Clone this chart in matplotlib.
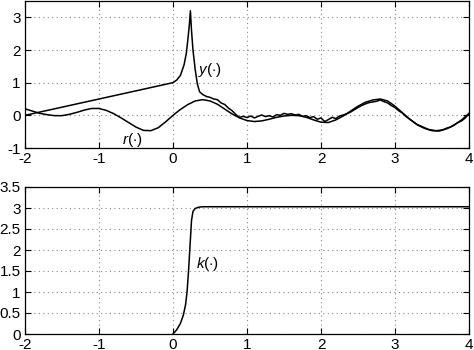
import matplotlib
matplotlib.use("Agg")
import matplotlib.pyplot as plt

plt.rcParams["font.family"] = ["Liberation Sans", "DejaVu Sans"]
plt.rcParams["mathtext.fontset"] = "custom"
plt.rcParams["mathtext.rm"] = "Liberation Sans"
plt.rcParams["mathtext.it"] = "Liberation Sans:italic"
plt.rcParams["axes.unicode_minus"] = False

# reference signal r(.)
r_x = [-2.0, -1.9, -1.8, -1.7, -1.6, -1.5, -1.4, -1.3, -1.2, -1.1, -1.0,
       -0.9, -0.8, -0.7, -0.6, -0.5, -0.4, -0.3, -0.2, -0.1, 0.0,
       0.1, 0.2, 0.3, 0.4, 0.5, 0.6, 0.7, 0.8, 0.9, 1.0,
       1.1, 1.2, 1.3, 1.4, 1.5, 1.6, 1.7, 1.8, 1.9, 2.0,
       2.1, 2.2, 2.3, 2.4, 2.5, 2.6, 2.7, 2.8, 2.9, 3.0,
       3.1, 3.2, 3.3, 3.4, 3.5, 3.6, 3.7, 3.8, 3.9, 4.0]
r_val = [0.20, 0.13, 0.06, 0.02, -0.01, -0.01, 0.03, 0.09, 0.16, 0.21, 0.21,
         0.15, 0.05, -0.08, -0.22, -0.36, -0.46, -0.47, -0.38, -0.20, 0.00,
         0.18, 0.33, 0.44, 0.48, 0.44, 0.34, 0.19, 0.04, -0.08, -0.16,
         -0.19, -0.17, -0.12, -0.06, -0.02, 0.00, -0.01, -0.06, -0.14, -0.21,
         -0.22, -0.14, -0.02, 0.13, 0.28, 0.40, 0.47, 0.50, 0.44, 0.28,
         0.08, -0.12, -0.29, -0.40, -0.47, -0.48, -0.41, -0.30, -0.14, 0.06]

# output y(.)
y_x = [-2.0, 0.0, 0.05, 0.1, 0.15, 0.18, 0.2, 0.22, 0.235, 0.25, 0.27, 0.3,
       0.33, 0.36, 0.4, 0.45, 0.5, 0.55, 0.6, 0.65, 0.7, 0.75, 0.8, 0.85,
       0.90, 0.95, 1.00, 1.05, 1.10, 1.15, 1.20, 1.25, 1.30, 1.35, 1.40,
       1.45, 1.50, 1.55, 1.60, 1.65, 1.70, 1.75, 1.80, 1.85, 1.90, 1.95,
       2.00, 2.05, 2.10, 2.15, 2.20, 2.25, 2.30, 2.35, 2.40, 2.45, 2.50,
       2.55, 2.60, 2.65, 2.70, 2.75, 2.80, 2.85, 2.90, 2.95, 3.00, 3.05,
       3.10, 3.15, 3.20, 3.25, 3.30, 3.35, 3.40, 3.45, 3.50, 3.55, 3.60,
       3.65, 3.70, 3.75, 3.80, 3.85, 3.90, 3.95, 4.00]
y_val = [0.0, 1.00, 1.08, 1.22, 1.55, 1.90, 2.30, 2.75, 3.20, 2.60, 2.00, 1.40,
         0.95, 0.72, 0.64, 0.58, 0.55, 0.50, 0.48, 0.38, 0.33, 0.22, 0.14, 0.02,
         -0.06, -0.03, -0.07, -0.02, -0.08, -0.03, 0.01, -0.04, -0.01, -0.05, 0.02,
         0.00, 0.06, 0.03, 0.05, 0.01, 0.03, -0.03, -0.01, -0.07, -0.04, -0.12,
         -0.08, -0.19, -0.13, -0.06, -0.10, -0.02, 0.01, 0.05, 0.10, 0.17, 0.24,
         0.30, 0.35, 0.39, 0.41, 0.43, 0.47, 0.42, 0.38, 0.30, 0.24, 0.14,
         0.07, -0.04, -0.12, -0.20, -0.28, -0.33, -0.38, -0.43, -0.45, -0.47, -0.46,
         -0.44, -0.39, -0.36, -0.29, -0.22, -0.17, -0.08, 0.05]

# gain k(.)
k_x = [0.0, 0.05, 0.1, 0.14, 0.17, 0.19, 0.21, 0.23, 0.25, 0.27, 0.3, 0.35, 0.4, 4.0]
k_val = [0.0, 0.1, 0.25, 0.45, 0.7, 1.0, 1.5, 2.1, 2.7, 2.92, 2.99, 3.02, 3.03, 3.03]

x_ticks = [-2, -1, 0, 1, 2, 3, 4]
top_yticks = [-1, 0, 1, 2, 3]
bot_yticks = [0, 0.5, 1, 1.5, 2, 2.5, 3, 3.5]
bot_ylabels = ["0", "0.5", "1", "1.5", "2", "2.5", "3", "3.5"]

fig = plt.figure(figsize=(4.74, 3.5), dpi=100)
ax1 = fig.add_axes([25 / 474, 1 - 148 / 350, 444 / 474, 147 / 350])
ax2 = fig.add_axes([25 / 474, 1 - 334 / 350, 444 / 474, 147 / 350])


def style(ax):
    ax.grid(True, linestyle=(0, (1, 3)), color="#888888", linewidth=0.8)
    ax.tick_params(direction="in", top=True, right=True, length=4,
                   labelsize=11, pad=3, width=0.8)
    for s in ax.spines.values():
        s.set_linewidth(0.9)
    ax.set_xlim(-2, 4)
    ax.set_xticks(x_ticks)


ax1.plot(r_x, r_val, color="black", lw=1.1)
ax1.plot(y_x, y_val, color="black", lw=1.1)
ax1.set_ylim(-1, 3.5)
ax1.set_yticks(top_yticks)
style(ax1)
ax1.text(0.5, 1.38, r"$y(\cdot)$", fontsize=11, ha="center", va="center")
ax1.text(-0.55, -0.77, r"$r(\cdot)$", fontsize=11, ha="center", va="center")

ax2.plot(k_x, k_val, color="black", lw=1.1)
ax2.set_ylim(0, 3.5)
ax2.set_yticks(bot_yticks)
ax2.set_yticklabels(bot_ylabels)
style(ax2)
ax2.text(0.47, 1.67, r"$k(\cdot)$", fontsize=11, ha="center", va="center")

fig.savefig("out.png", dpi=100)
